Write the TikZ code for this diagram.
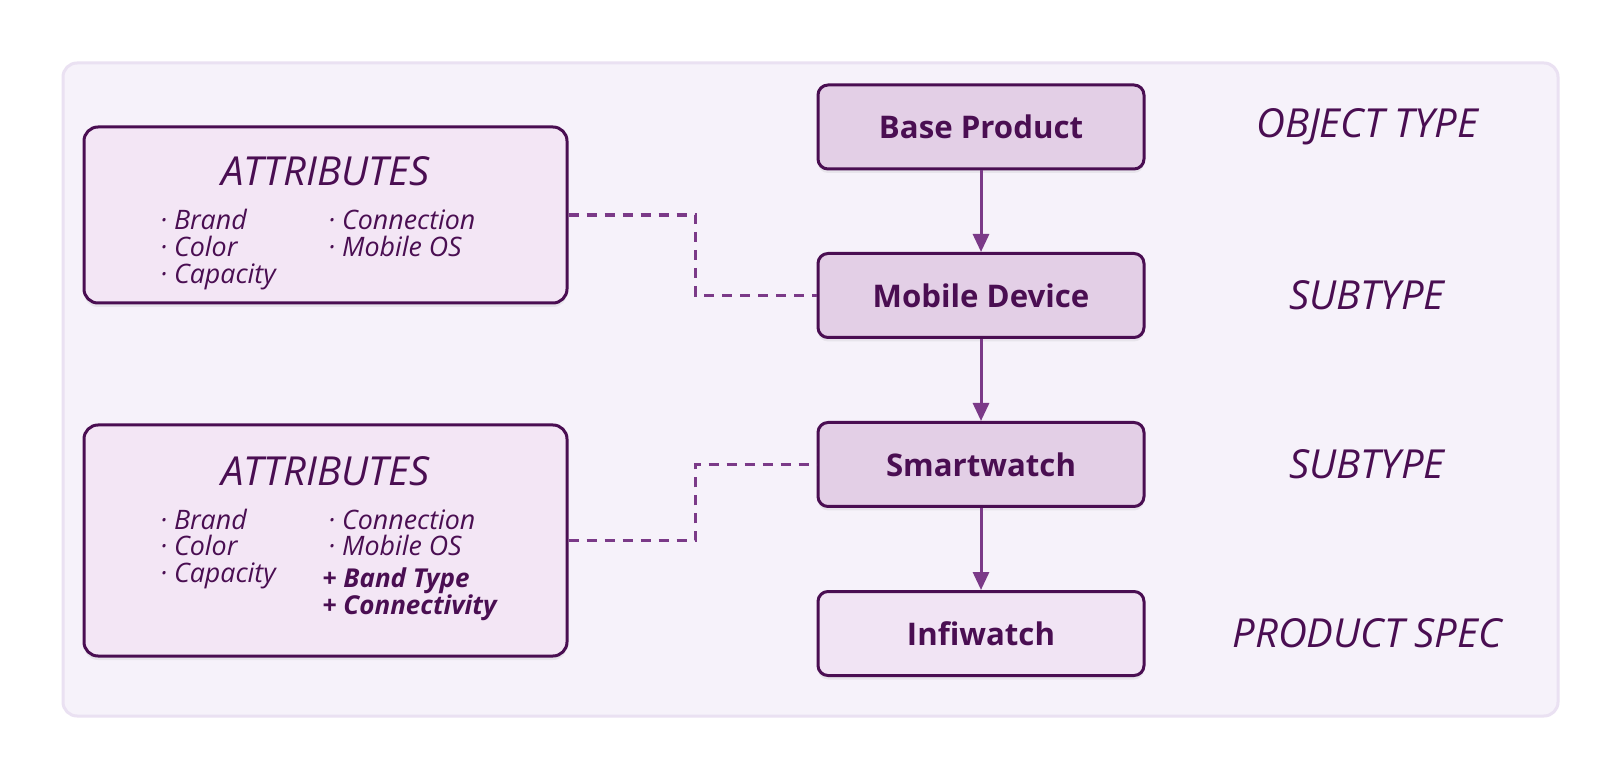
\documentclass[tikz,border=0pt]{standalone}
\usepackage{fontspec}
\setmainfont{Open Sans}
\usetikzlibrary{arrows.meta,shadows}
\definecolor{ink}{HTML}{4A0E52}
\definecolor{arrowc}{HTML}{7B3A88}
\definecolor{panelfill}{HTML}{F6F2FA}
\definecolor{panelline}{HTML}{EAE1F2}
\definecolor{typefill}{HTML}{E3CFE6}
\definecolor{specfill}{HTML}{F1E4F4}
\definecolor{attrfill}{HTML}{F3E6F5}
\tikzset{
  typebox/.style={draw=ink, line width=1.5pt, rounded corners=5pt, fill=typefill,
    minimum width=163pt, minimum height=42pt, font=\fontsize{15.6}{18}\selectfont\bfseries, text=ink,
    drop shadow={opacity=0.12, shadow xshift=0pt, shadow yshift=-2pt}},
  attrbox/.style={draw=ink, line width=1.5pt, rounded corners=7pt, fill=attrfill,
    minimum width=241.5pt, drop shadow={opacity=0.12, shadow xshift=0pt, shadow yshift=-2pt}},
  attrtitle/.style={font=\fontsize{20}{23}\selectfont\itshape, text=ink},
  item/.style={font=\fontsize{13.4}{15}\selectfont\itshape, text=ink, anchor=west, inner sep=0pt,
    text height=9pt, text depth=2.5pt},
  itemb/.style={font=\fontsize{13}{15}\selectfont\itshape\bfseries, text=ink, anchor=west, inner sep=0pt,
    text height=9pt, text depth=2.5pt},
  level/.style={font=\fontsize{20}{23}\selectfont\itshape, text=ink},
  arr/.style={draw=arrowc, line width=1.5pt, -{Triangle[length=9pt,width=8pt]}},
  dashline/.style={draw=arrowc, line width=1.6pt, dash pattern=on 5pt off 4pt}
}
\begin{document}
\begin{tikzpicture}[x=0.5pt,y=-0.5pt]
\useasboundingbox (0,0) rectangle (1600,758);
\fill[white] (0,0) rectangle (1600,758);
\draw[panelline, fill=panelfill, line width=1.5pt, rounded corners=7pt] (63,63) rectangle (1558,716);

% right column
\node[typebox] (base) at (981,127) {Base Product};
\node[typebox] (mobile) at (981,295.5) {Mobile Device};
\node[typebox] (smart) at (981,464.5) {Smartwatch};
\node[typebox, fill=specfill] (infi) at (981,633.5) {Infiwatch};

\node[level] (l1) at (1367,127) {OBJECT TYPE};
\node[level] (l2) at (1367,295) {SUBTYPE};
\node[level] (l3) at (1367,464) {SUBTYPE};
\node[level] (l4) at (1367,633) {PRODUCT SPEC};

\draw[arr] (base) -- (mobile);
\draw[arr] (mobile) -- (smart);
\draw[arr] (smart) -- (infi);

% attribute box 1
\node[attrbox, minimum height=88pt] (attr1) at (325.5,215) {};
\node[attrtitle] (t1) at (325.5,171) {ATTRIBUTES};
\node[item] (a1) at (160,223) {· Brand};
\node[item] (a2) at (160,250) {· Color};
\node[item] (a3) at (160,277) {· Capacity};
\node[item] (a4) at (328,223) {· Connection};
\node[item] (a5) at (328,250) {· Mobile OS};

% attribute box 2
\node[attrbox, minimum height=115.5pt] (attr2) at (325.5,540.5) {};
\node[attrtitle] (t2) at (325.5,471) {ATTRIBUTES};
\node[item] (b1) at (160,523) {· Brand};
\node[item] (b2) at (160,549) {· Color};
\node[item] (b3) at (160,576) {· Capacity};
\node[item] (b4) at (328,523) {· Connection};
\node[item] (b5) at (328,549) {· Mobile OS};
\node[itemb] (b6) at (322,581) {+ Band Type};
\node[itemb] (b7) at (322,608) {+ Connectivity};

% dashed links
\draw[dashline] (attr1.east) -- ++(127,0) |- (mobile.west);
\draw[dashline] (attr2.east) -- ++(127,0) |- (smart.west);
\end{tikzpicture}
\end{document}
